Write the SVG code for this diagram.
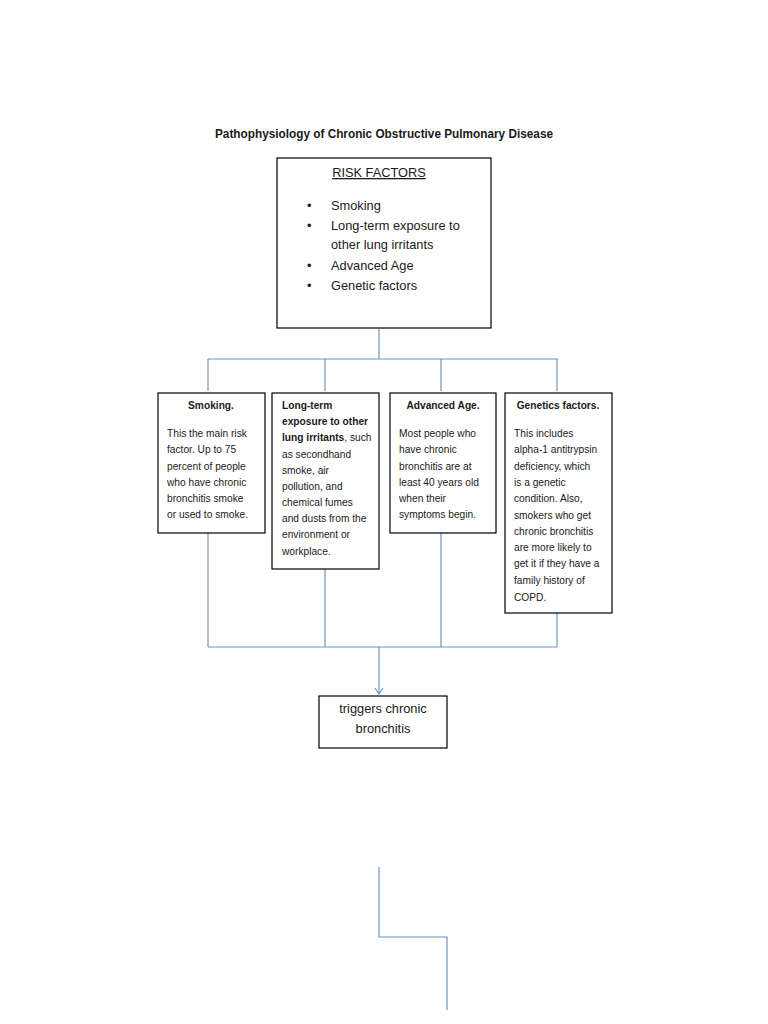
<svg xmlns="http://www.w3.org/2000/svg" width="768" height="1024" viewBox="0 0 768 1024">
<style>
.box{fill:#fff;stroke:#000;stroke-width:1.2}
.c{fill:none;stroke:#6f93c6;stroke-width:1.2}
text{font-family:"Liberation Sans",Arial,sans-serif;fill:#1a1a1a}
.t{font-size:12px;font-weight:bold}
.m{font-size:12.8px}
.s{font-size:10.2px}
.sb{font-size:10.2px;font-weight:bold}
.mid{text-anchor:middle}
</style>
<defs>
<marker id="arr" markerWidth="10" markerHeight="10" refX="8" refY="5" orient="auto" markerUnits="userSpaceOnUse" viewBox="0 0 10 10">
<path d="M2,1 L8,5 L2,9" fill="none" stroke="#6f93c6" stroke-width="1.2"/>
</marker>
</defs>
<rect width="768" height="1024" fill="#fff"/>
<text id="title" class="t" x="215" y="138" textLength="338" lengthAdjust="spacingAndGlyphs">Pathophysiology of Chronic Obstructive Pulmonary Disease</text>

<g id="connectors">
<path class="c" d="M379,329 V359 M208,359 H558 M208,359 V391 M325,359 V391 M441,359 V391 M557,359 V391"/>
<path class="c" d="M208,533 V647 M325,569 V647 M441,533 V647 M557,613 V647 M208,647 H557"/>
<path class="c" d="M379,647 V694" marker-end="url(#arr)"/>
<path class="c" d="M379,867 V937 H447 V1010"/>
</g>

<g id="risk-factors">
<rect class="box" x="277" y="158" width="214" height="170"/>
<text class="m mid" x="379" y="177" text-decoration="underline">RISK FACTORS</text>
<text class="m" x="307" y="210">•</text><text class="m" x="331" y="210">Smoking</text>
<text class="m" x="307" y="230">•</text><text class="m" x="331" y="230">Long-term exposure to</text>
<text class="m" x="331" y="249">other lung irritants</text>
<text class="m" x="307" y="270">•</text><text class="m" x="331" y="270">Advanced Age</text>
<text class="m" x="307" y="290">•</text><text class="m" x="331" y="290">Genetic factors</text>
</g>

<g id="smoking">
<rect class="box" x="158" y="393" width="107" height="140"/>
<text class="sb mid" x="211" y="409">Smoking.</text>
<text class="s" x="167" y="437">This the main risk</text>
<text class="s" x="167" y="453">factor. Up to 75</text>
<text class="s" x="167" y="470">percent of people</text>
<text class="s" x="167" y="486">who have chronic</text>
<text class="s" x="167" y="502">bronchitis smoke</text>
<text class="s" x="167" y="518">or used to smoke.</text>
</g>

<g id="irritants">
<rect class="box" x="272" y="393" width="107" height="176"/>
<text class="sb" x="282" y="409">Long-term</text>
<text class="sb" x="282" y="425">exposure to other</text>
<text class="s" x="282" y="441"><tspan font-weight="bold">lung irritants</tspan>, such</text>
<text class="s" x="282" y="458">as secondhand</text>
<text class="s" x="282" y="474">smoke, air</text>
<text class="s" x="282" y="490">pollution, and</text>
<text class="s" x="282" y="506">chemical fumes</text>
<text class="s" x="282" y="522">and dusts from the</text>
<text class="s" x="282" y="538">environment or</text>
<text class="s" x="282" y="555">workplace.</text>
</g>

<g id="age">
<rect class="box" x="390" y="393" width="106" height="140"/>
<text class="sb mid" x="443" y="409">Advanced Age.</text>
<text class="s" x="399" y="437">Most people who</text>
<text class="s" x="399" y="453">have chronic</text>
<text class="s" x="399" y="470">bronchitis are at</text>
<text class="s" x="399" y="486">least 40 years old</text>
<text class="s" x="399" y="502">when their</text>
<text class="s" x="399" y="518">symptoms begin.</text>
</g>

<g id="genetics">
<rect class="box" x="505" y="393" width="107" height="220"/>
<text class="sb mid" x="558" y="409">Genetics factors.</text>
<text class="s" x="514" y="437">This includes</text>
<text class="s" x="514" y="453">alpha-1 antitrypsin</text>
<text class="s" x="514" y="470">deficiency, which</text>
<text class="s" x="514" y="486">is a genetic</text>
<text class="s" x="514" y="502">condition. Also,</text>
<text class="s" x="514" y="519">smokers who get</text>
<text class="s" x="514" y="535">chronic bronchitis</text>
<text class="s" x="514" y="551">are more likely to</text>
<text class="s" x="514" y="567">get it if they have a</text>
<text class="s" x="514" y="584">family history of</text>
<text class="s" x="514" y="601">COPD.</text>
</g>

<g id="triggers">
<rect class="box" x="319" y="696" width="128" height="52"/>
<text class="m mid" x="383" y="713">triggers chronic</text>
<text class="m mid" x="383" y="733">bronchitis</text>
</g>
</svg>
